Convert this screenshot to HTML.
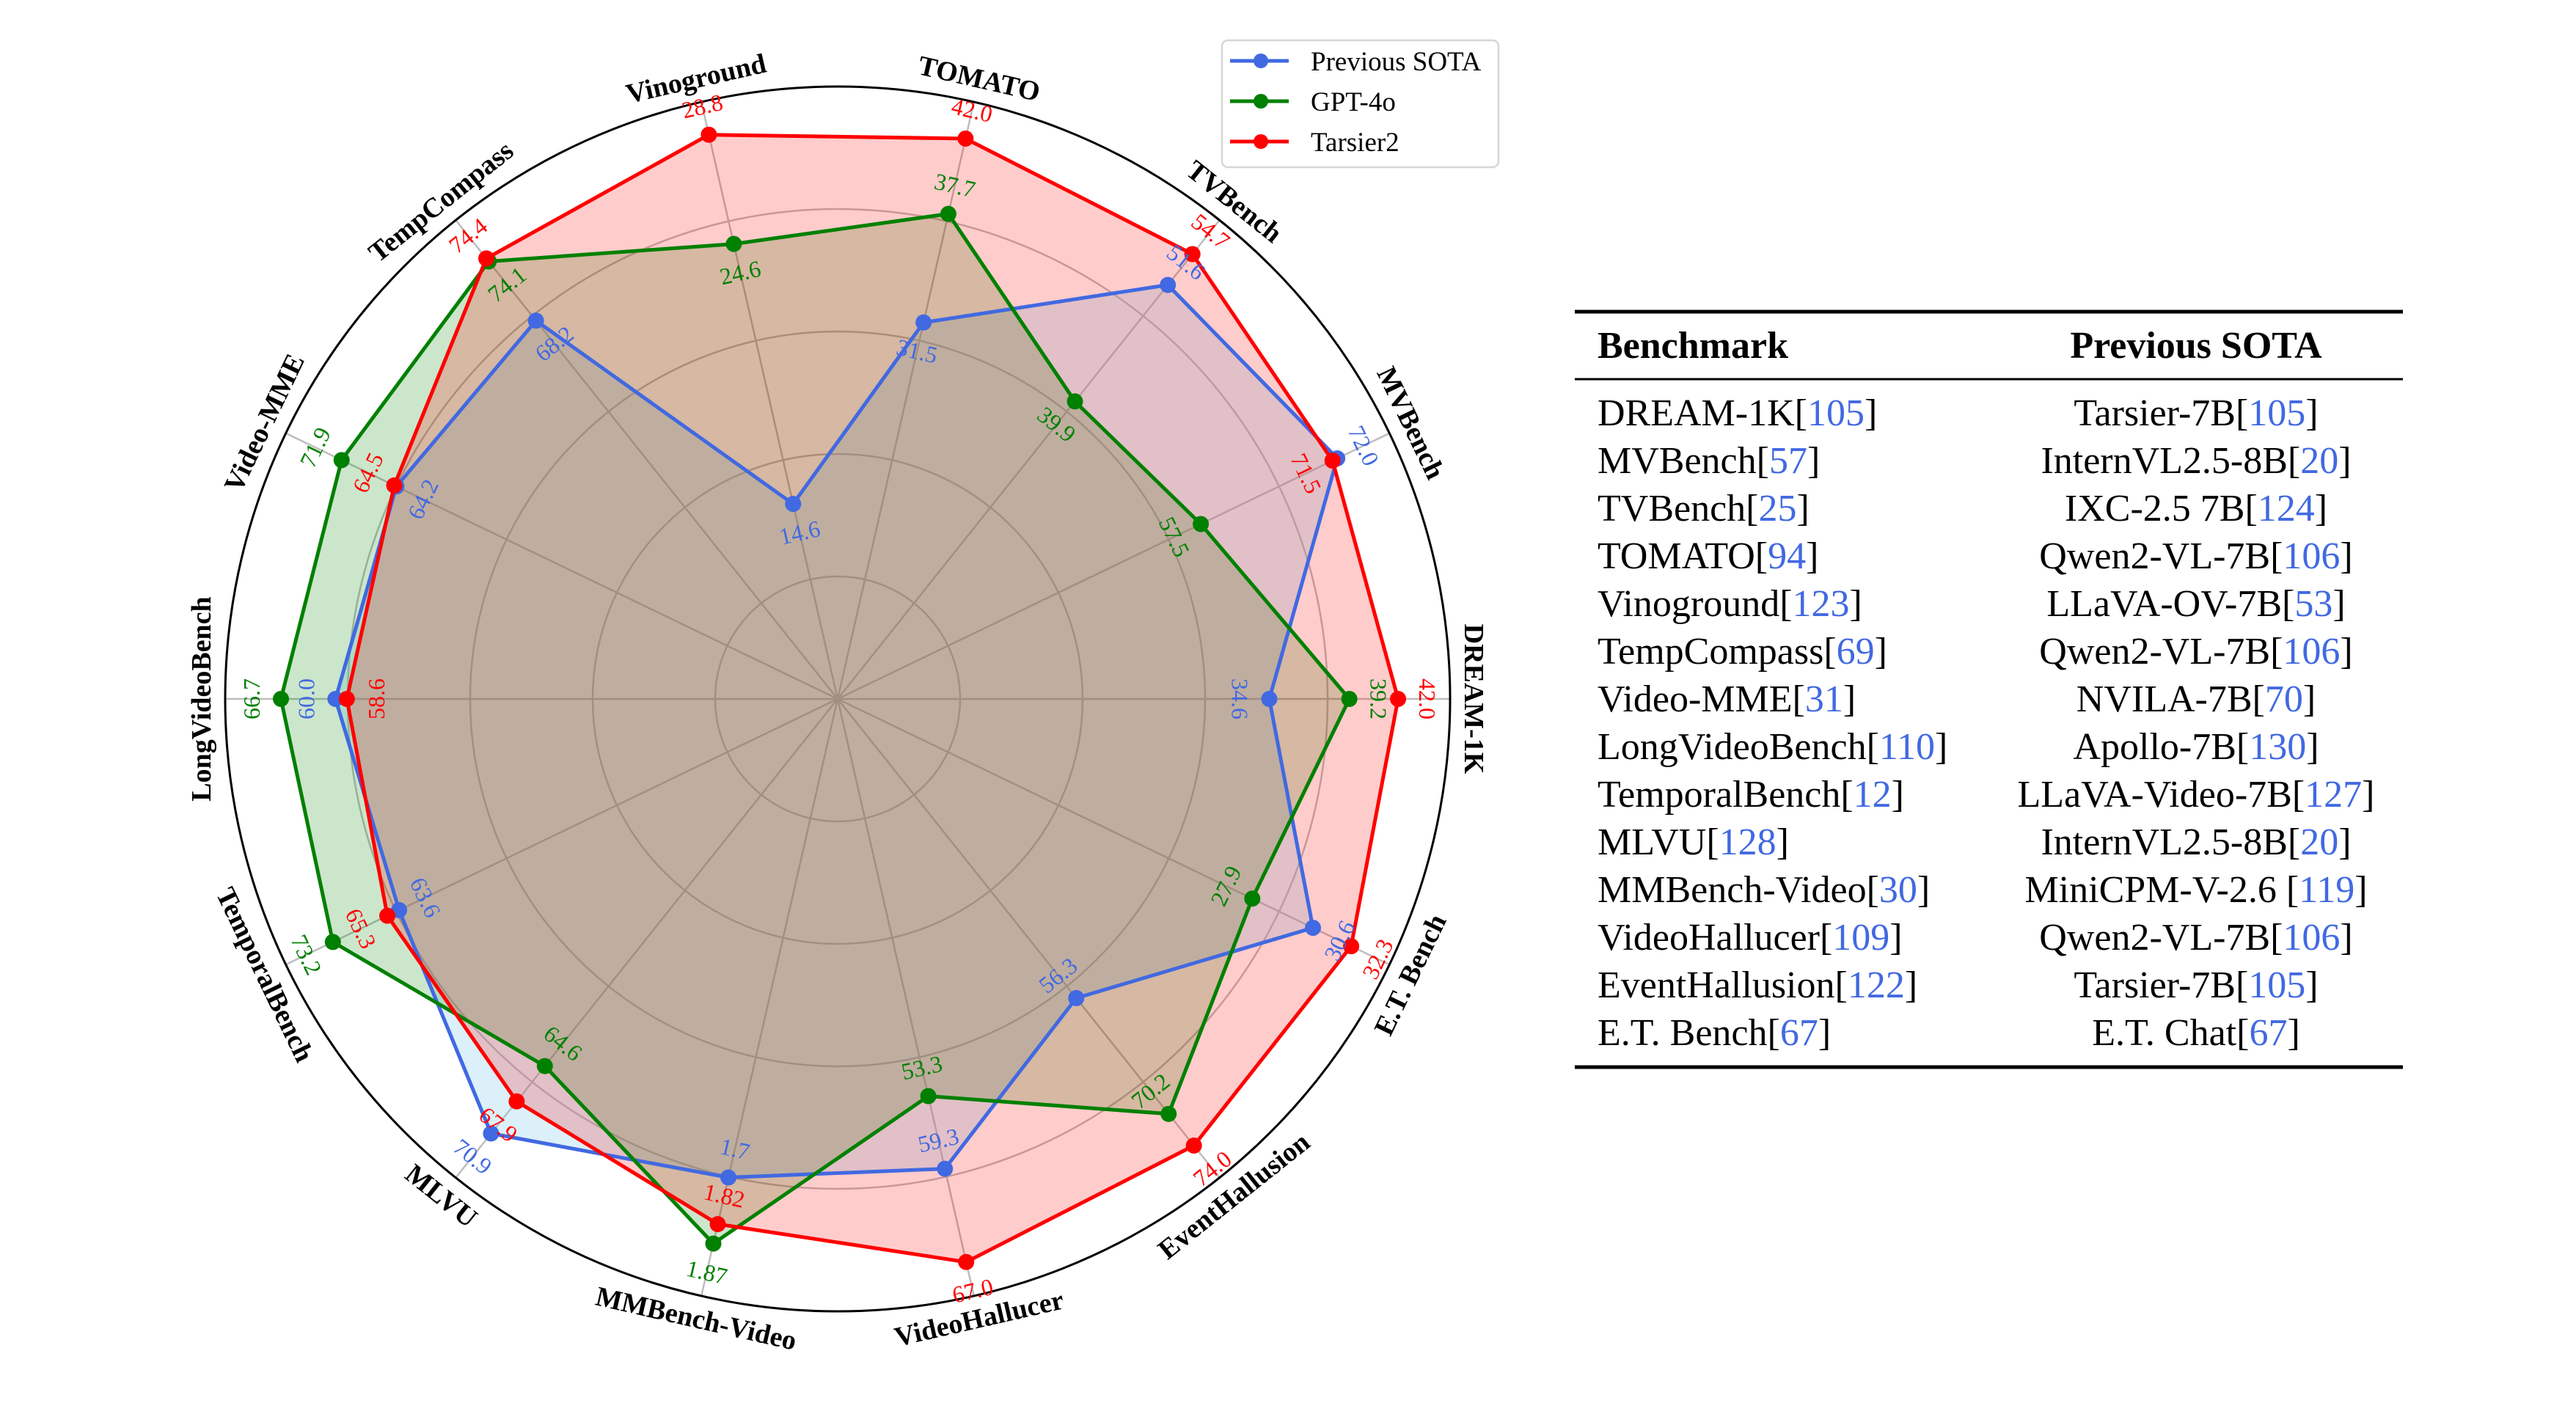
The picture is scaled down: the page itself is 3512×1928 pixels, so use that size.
<!DOCTYPE html>
<html><head><meta charset="utf-8"><style>
html,body{margin:0;padding:0;background:#fff;}
svg{display:block;}
</style></head><body>
<svg id="chart" width="3512" height="1928" viewBox="0 0 3512 1928" xmlns="http://www.w3.org/2000/svg">
  <g id="grid"></g>
  <g id="series"></g>
  <g id="labels"></g>
  <g>
    <rect x="1666" y="55" width="377" height="173" rx="8" fill="#fff" stroke="#d6d6d6" stroke-width="2.5"/>
    <g>
      <line x1="1677" y1="83" x2="1757" y2="83" stroke="#4169E1" stroke-width="5"/>
      <circle cx="1719" cy="83" r="10" fill="#4169E1"/>
      <text x="1787" y="96" font-family="Liberation Serif, serif" font-size="37" fill="#000">Previous SOTA</text>
    </g>
    <g>
      <line x1="1677" y1="138" x2="1757" y2="138" stroke="#008000" stroke-width="5"/>
      <circle cx="1719" cy="138" r="10" fill="#008000"/>
      <text x="1787" y="151" font-family="Liberation Serif, serif" font-size="37" fill="#000">GPT-4o</text>
    </g>
    <g>
      <line x1="1677" y1="193" x2="1757" y2="193" stroke="#FF0000" stroke-width="5"/>
      <circle cx="1719" cy="193" r="10" fill="#FF0000"/>
      <text x="1787" y="206" font-family="Liberation Serif, serif" font-size="37" fill="#000">Tarsier2</text>
    </g>
  </g>
  <g id="table" font-family="Liberation Serif, serif">
    <line x1="2147" y1="425" x2="3276" y2="425" stroke="#000" stroke-width="5"/>
    <line x1="2147" y1="517" x2="3276" y2="517" stroke="#000" stroke-width="3"/>
    <line x1="2147" y1="1455" x2="3276" y2="1455" stroke="#000" stroke-width="5"/>
    <text x="2178" y="488" font-size="52" font-weight="bold">Benchmark</text>
    <text x="2994" y="488" font-size="52" font-weight="bold" text-anchor="middle">Previous SOTA</text>
  </g>
</svg>
<script>
const axes = ["DREAM-1K","MVBench","TVBench","TOMATO","Vinoground","TempCompass","Video-MME","LongVideoBench","TemporalBench","MLVU","MMBench-Video","VideoHallucer","EventHallusion","E.T. Bench"];
const axisMin = [9.8,18.9,10.0,10.0,7.1,30.5,2.2,-1.7,0.0,30.3,0.469,20.5,20.4,9.45];
const axisMax = [45.2,77.9,58.4,44.3,30.2,78.5,80.2,74.0,80.5,75.3,2.014,70.1,78.2,34.15];
const prevSota = [34.6,72.0,51.6,31.5,14.6,68.2,64.2,60.0,63.6,70.9,1.7,59.3,56.3,30.6];
const gpt4o = [39.2,57.5,39.9,37.7,24.6,74.1,71.9,66.7,73.2,64.6,1.87,53.3,70.2,27.9];
const tarsier2 = [42.0,71.5,54.7,42.0,28.8,74.4,64.5,58.6,65.3,67.9,1.82,67.0,74.0,32.3];
const prevSide = [-1,1,1,-1,-1,-1,-1,1,-1,1,-1,-1,-1,1];
const gptSide = [1,-1,-1,1,-1,-1,1,1,1,-1,1,-1,-1,-1];
const tarsSide = [1,-1,1,1,1,1,1,-1,1,1,-1,1,1,1];
const tableBench = [["DREAM-1K","105"],["MVBench","57"],["TVBench","25"],["TOMATO","94"],["Vinoground","123"],["TempCompass","69"],["Video-MME","31"],["LongVideoBench","110"],["TemporalBench","12"],["MLVU","128"],["MMBench-Video","30"],["VideoHallucer","109"],["EventHallusion","122"],["E.T. Bench","67"]];
const tableSota = [["Tarsier-7B","105"],["InternVL2.5-8B","20"],["IXC-2.5 7B","124"],["Qwen2-VL-7B","106"],["LLaVA-OV-7B","53"],["Qwen2-VL-7B","106"],["NVILA-7B","70"],["Apollo-7B","130"],["LLaVA-Video-7B","127"],["InternVL2.5-8B","20"],["MiniCPM-V-2.6 ","119"],["Qwen2-VL-7B","106"],["Tarsier-7B","105"],["E.T. Chat","67"]];

const NS="http://www.w3.org/2000/svg";
const CX=1142, CY=953, R=835, RV=840;
const N=axes.length;
function ang(i){return i*2*Math.PI/N;}
function rad(i,v){return RV*(v-axisMin[i])/(axisMax[i]-axisMin[i]);}
function pt(i,r){return [CX+r*Math.cos(ang(i)), CY-r*Math.sin(ang(i))];}
function rot(i){let d=ang(i)*180/Math.PI-90; if(d>180)d-=360; if(d>90)d-=180; if(d<-90)d+=180; return -d;}
function mk(tag,attrs,parent){const e=document.createElementNS(NS,tag);for(const k in attrs)e.setAttribute(k,attrs[k]);parent.appendChild(e);return e;}
function fmt(v){return Math.abs(v*10-Math.round(v*10))<1e-9 ? v.toFixed(1) : String(v);}

const grid=document.getElementById('grid');
for(let k=1;k<=4;k++){
  const c=mk('circle',{cx:CX,cy:CY,r:R*k/5,fill:'none',stroke:'#bdbdbd','stroke-width':2.5},grid);
  
  
}
for(let i=0;i<N;i++){
  const p=pt(i,R);
  const l=mk('line',{x1:CX,y1:CY,x2:p[0],y2:p[1],stroke:'#bdbdbd','stroke-width':2.5},grid);
  
  
}
const outer=mk('circle',{cx:CX,cy:CY,r:R,fill:'none',stroke:'#000','stroke-width':3},grid);



const seriesG=document.getElementById('series');
const labelsG=document.getElementById('labels');
const series=[
  {name:'previous-sota',vals:prevSota,side:prevSide,color:'#4169E1',fill:'#87CEEB',fo:0.3},
  {name:'gpt-4o',vals:gpt4o,side:gptSide,color:'#008000',fill:'#008000',fo:0.2},
  {name:'tarsier2',vals:tarsier2,side:tarsSide,color:'#FF0000',fill:'#FF0000',fo:0.2}
];
series.forEach(s=>{
  const pts=s.vals.map((v,i)=>pt(i,rad(i,v)));
  const d=pts.map(p=>p[0].toFixed(1)+','+p[1].toFixed(1)).join(' ');
  const poly=mk('polygon',{points:d,fill:s.fill,'fill-opacity':s.fo,stroke:'none'},seriesG);
  
  
});
series.forEach(s=>{
  const pts=s.vals.map((v,i)=>pt(i,rad(i,v)));
  const d=pts.map(p=>p[0].toFixed(1)+','+p[1].toFixed(1)).join(' ');
  const line=mk('polygon',{points:d,fill:'none',stroke:s.color,'stroke-width':5,'stroke-linejoin':'round'},seriesG);
  
  
  pts.forEach((p,i)=>{
    const c=mk('circle',{cx:p[0],cy:p[1],r:11,fill:s.color},seriesG);
    
    
    const lp=pt(i,rad(i,s.vals[i])+s.side[i]*40);
    const t=mk('text',{x:lp[0],y:lp[1],'font-family':'Liberation Serif, serif','font-size':32,fill:s.color,'text-anchor':'middle','dominant-baseline':'central',transform:'rotate('+rot(i)+' '+lp[0]+' '+lp[1]+')'},labelsG);
    t.textContent=fmt(s.vals[i]);
    
    
  });
});
axes.forEach((a,i)=>{
  const p=pt(i,R+32);
  const t=mk('text',{x:p[0],y:p[1],'font-family':'Liberation Serif, serif','font-size':38,'font-weight':'bold',fill:'#000','text-anchor':'middle','dominant-baseline':'central',transform:'rotate('+rot(i)+' '+p[0]+' '+p[1]+')'},labelsG);
  t.textContent=a;
  
  
});

const table=document.getElementById('table');
tableBench.forEach((b,i)=>{
  const y=580+i*65;
  const t=mk('text',{x:2178,y:y,'font-size':52,fill:'#000'},table);
  
  
  t.appendChild(document.createTextNode(b[0]+'['));
  const ts=mk('tspan',{fill:'#4169E1'},t); ts.textContent=b[1];
  t.appendChild(document.createTextNode(']'));
  const s=tableSota[i];
  const t2=mk('text',{x:2994,y:y,'font-size':52,fill:'#000','text-anchor':'middle'},table);
  
  
  t2.appendChild(document.createTextNode(s[0]+'['));
  const ts2=mk('tspan',{fill:'#4169E1'},t2); ts2.textContent=s[1];
  t2.appendChild(document.createTextNode(']'));
});
</script>
</body></html>
